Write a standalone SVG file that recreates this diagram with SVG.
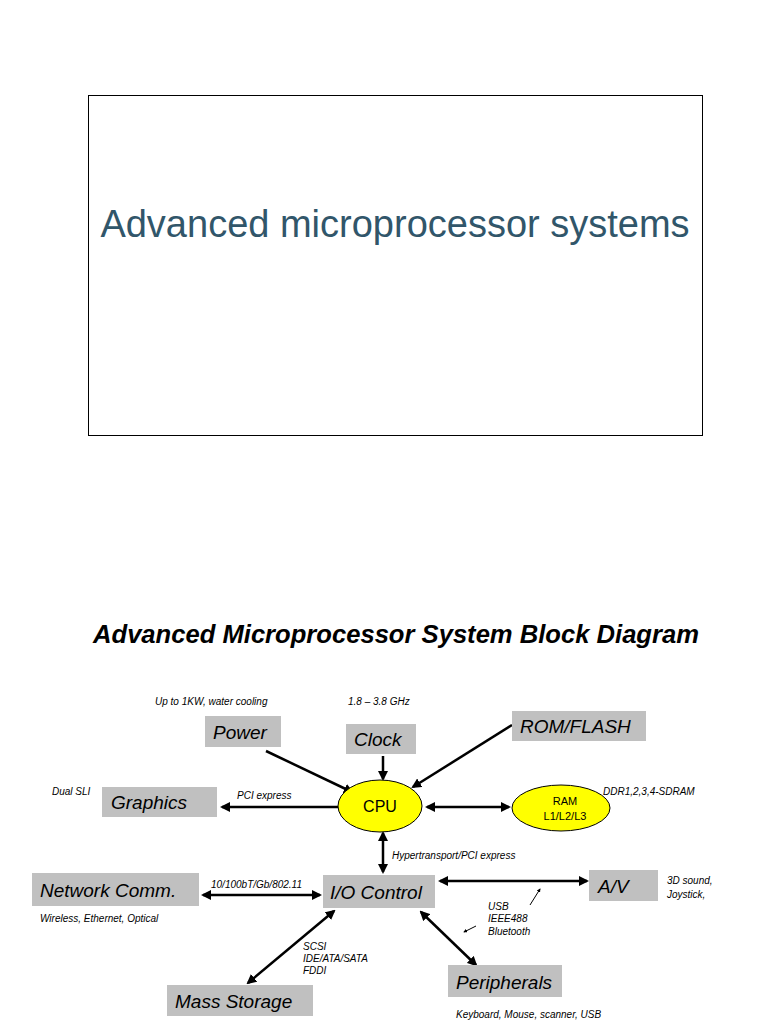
<svg xmlns="http://www.w3.org/2000/svg" width="768" height="1024" viewBox="0 0 768 1024">
<style>
.b{fill:#c0c0c0}
.bt{font-family:"Liberation Sans",Arial,sans-serif;font-style:italic;font-size:19px;fill:#000}
.s{font-family:"Liberation Sans",Arial,sans-serif;font-style:italic;font-size:10px;fill:#000}
.c{stroke:#000;stroke-width:2.5;fill:none}
</style>
<defs><marker id="a" viewBox="0 0 10 10" refX="8" refY="5" markerWidth="4" markerHeight="4" orient="auto-start-reverse"><path d="M0,0L10,5L0,10z" fill="#000"/></marker></defs>
<rect width="768" height="1024" fill="#fff"/>
<rect x="88.5" y="95.5" width="614" height="340" fill="none" stroke="#000"/>
<text x="395" y="237" text-anchor="middle" font-family="Liberation Sans,Arial,sans-serif" font-size="38" fill="#31566a">Advanced microprocessor systems</text>
<text x="396" y="643" text-anchor="middle" font-family="Liberation Sans,Arial,sans-serif" font-size="25.6" font-weight="bold" font-style="italic">Advanced Microprocessor System Block Diagram</text>
<g id="connectors">
<line class="c" x1="266" y1="751" x2="352" y2="792" marker-end="url(#a)"/>
<line class="c" x1="383" y1="756" x2="383" y2="779" marker-end="url(#a)"/>
<line class="c" x1="512" y1="725" x2="413" y2="787" marker-end="url(#a)"/>
<line class="c" x1="338" y1="807" x2="222" y2="807" marker-end="url(#a)"/>
<line class="c" x1="427" y1="807" x2="509" y2="807" marker-start="url(#a)" marker-end="url(#a)"/>
<line class="c" x1="383" y1="833" x2="383" y2="872" marker-start="url(#a)" marker-end="url(#a)"/>
<line class="c" x1="203" y1="895" x2="320" y2="895" marker-start="url(#a)" marker-end="url(#a)"/>
<line class="c" x1="440" y1="881" x2="587" y2="881" marker-start="url(#a)" marker-end="url(#a)"/>
<line class="c" x1="334" y1="911" x2="248" y2="983" marker-start="url(#a)" marker-end="url(#a)"/>
<line class="c" x1="421" y1="912" x2="476" y2="965" marker-start="url(#a)" marker-end="url(#a)"/>
<line stroke="#000" stroke-width="1" x1="530" y1="905" x2="540" y2="889" marker-end="url(#a)"/>
<line stroke="#000" stroke-width="1" x1="476" y1="926" x2="464" y2="932" marker-end="url(#a)"/>
</g>
<g id="power"><rect class="b" x="205" y="716" width="76" height="31"/><text class="bt" x="213" y="739">Power</text></g>
<g id="clock"><rect class="b" x="346" y="724" width="70" height="30"/><text class="bt" x="354" y="746">Clock</text></g>
<g id="rom"><rect class="b" x="512" y="711" width="134" height="30"/><text class="bt" x="520" y="733">ROM/FLASH</text></g>
<g id="graphics"><rect class="b" x="102" y="787" width="115" height="30"/><text class="bt" x="111" y="809">Graphics</text></g>
<g id="cpu"><ellipse cx="380" cy="806" rx="42" ry="26" fill="#ffff00" stroke="#000"/><text x="380" y="812" text-anchor="middle" font-family="Liberation Sans,Arial,sans-serif" font-size="16">CPU</text></g>
<g id="ram"><ellipse cx="561" cy="808" rx="49" ry="23" fill="#ffff00" stroke="#000"/><text x="565" y="805" text-anchor="middle" font-family="Liberation Sans,Arial,sans-serif" font-size="11">RAM</text><text x="565" y="820" text-anchor="middle" font-family="Liberation Sans,Arial,sans-serif" font-size="11">L1/L2/L3</text></g>
<g id="network"><rect class="b" x="32" y="873" width="167" height="33"/><text class="bt" x="40" y="897">Network Comm.</text></g>
<g id="io"><rect class="b" x="323" y="875" width="112" height="33"/><text class="bt" x="330" y="899">I/O Control</text></g>
<g id="av"><rect class="b" x="589" y="870" width="69" height="31"/><text class="bt" x="598" y="893">A/V</text></g>
<g id="mass"><rect class="b" x="167" y="985" width="146" height="31"/><text class="bt" x="175" y="1008">Mass Storage</text></g>
<g id="periph"><rect class="b" x="448" y="965" width="114" height="32"/><text class="bt" x="456" y="989">Peripherals</text></g>
<g id="labels">
<text class="s" x="155" y="705">Up to 1KW, water cooling</text>
<text class="s" x="348" y="705">1.8 – 3.8 GHz</text>
<text class="s" x="52" y="795">Dual SLI</text>
<text class="s" x="237" y="799">PCI express</text>
<text class="s" x="603" y="795">DDR1,2,3,4-SDRAM</text>
<text class="s" x="392" y="859">Hypertransport/PCI express</text>
<text class="s" x="211" y="888">10/100bT/Gb/802.11</text>
<text class="s" x="40" y="922">Wireless, Ethernet, Optical</text>
<text class="s" x="667" y="884">3D sound,</text>
<text class="s" x="667" y="898">Joystick,</text>
<text class="s" x="488" y="910">USB</text>
<text class="s" x="488" y="922">IEEE488</text>
<text class="s" x="488" y="935">Bluetooth</text>
<text class="s" x="303" y="950">SCSI</text>
<text class="s" x="303" y="962">IDE/ATA/SATA</text>
<text class="s" x="303" y="974">FDDI</text>
<text class="s" x="456" y="1018">Keyboard, Mouse, scanner, USB</text>
</g>
</svg>
